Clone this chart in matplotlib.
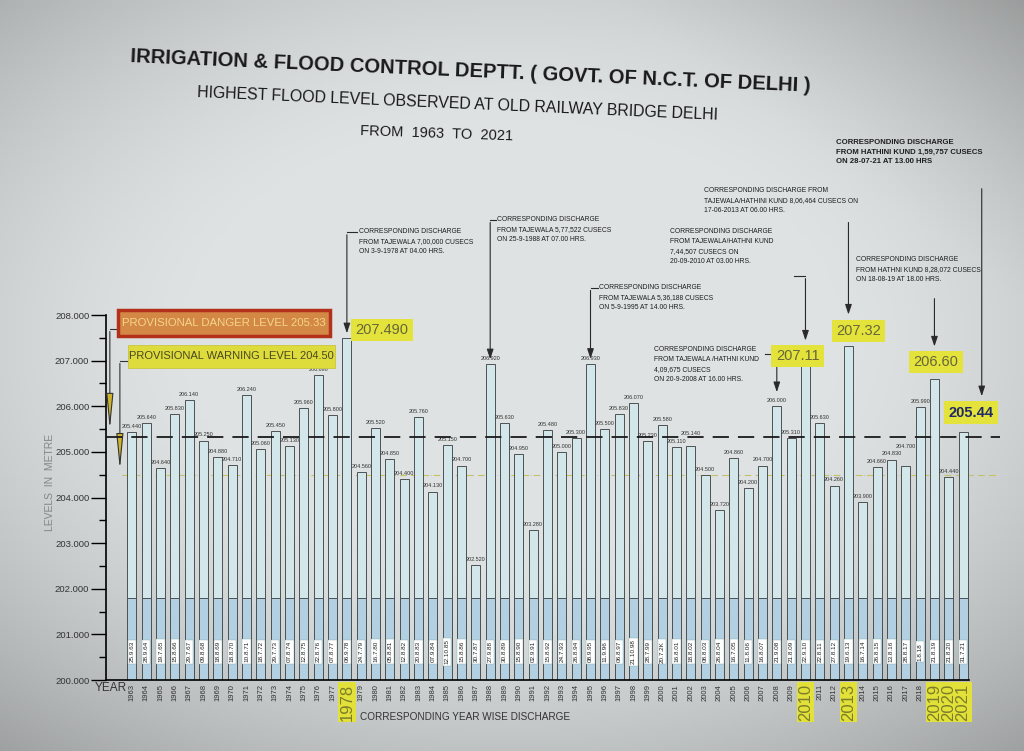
import numpy as np
import matplotlib.pyplot as plt
from matplotlib.patches import Rectangle
from matplotlib.transforms import blended_transform_factory

# highest flood level at Old Railway Bridge, Delhi (m)
years = np.arange(1963, 2022)
levels = [205.44, 205.64, 204.64, 205.83, 206.14, 205.25, 204.88, 204.71, 206.24, 205.06,
          205.45, 205.13, 205.96, 206.69, 205.80, 207.49, 204.56, 205.52, 204.85, 204.40,
          205.76, 204.13, 205.15, 204.70, 202.52, 206.92, 205.63, 204.95, 203.28, 205.48,
          205.00, 205.30, 206.93, 205.50, 205.83, 206.07, 205.23, 205.58, 205.11, 205.14,
          204.50, 203.72, 204.86, 204.20, 204.70, 206.00, 205.31, 207.11, 205.63, 204.26,
          207.32, 203.90, 204.66, 204.83, 204.70, 205.99, 206.60, 204.44, 205.44]
dates = ['25.9.63', '28.9.64', '19.7.65', '15.8.66', '29.7.67', '09.8.68', '18.8.69',
         '18.8.70', '10.8.71', '18.7.72', '29.7.73', '07.8.74', '12.8.75', '22.8.76', '07.8.77', '06.9.78', '24.7.79',
         '16.7.80', '05.8.81', '12.8.82', '20.8.83', '07.9.84', '12.10.85', '15.8.86', '30.7.87', '27.9.88', '30.8.89',
         '15.8.90', '02.9.91', '15.8.92', '24.7.93', '26.8.94', '08.9.95', '11.9.96', '06.8.97', '21.10.98', '28.7.99',
         '20.7.2K', '16.8.01', '18.8.02', '08.8.03', '26.8.04', '16.7.05', '11.8.06', '16.8.07', '21.9.08', '21.8.09',
         '22.9.10', '22.8.11', '27.8.12', '19.6.13', '16.7.14', '26.8.15', '13.8.16', '28.8.17', '1.8.18', '21.8.19',
         '21.8.20', '31.7.21']
danger = 205.33
warning = 204.50
big_years = [1978, 2010, 2013, 2019, 2021]
big_labels = ['207.490', '207.11', '207.32', '206.60', '205.44']
yellow_years = [1978, 2010, 2013, 2019, 2020, 2021]

notes = {
    1978: "CORRESPONDING DISCHARGE\nFROM TAJEWALA 7,00,000 CUSECS\nON 3-9-1978 AT 04.00 HRS.",
    1988: "CORRESPONDING DISCHARGE\nFROM TAJEWALA 5,77,522 CUSECS\nON 25-9-1988 AT 07.00 HRS.",
    1995: "CORRESPONDING DISCHARGE\nFROM TAJEWALA 5,36,188 CUSECS\nON 5-9-1995 AT 14.00 HRS.",
    2008: "CORRESPONDING DISCHARGE\nFROM TAJEWALA /HATHNI KUND\n4,09,675 CUSECS\nON 20-9-2008 AT 16.00 HRS.",
    2010: "CORRESPONDING DISCHARGE\nFROM TAJEWALA/HATHNI KUND\n7,44,507 CUSECS ON\n20-09-2010 AT 03.00 HRS.",
    2013: "CORRESPONDING DISCHARGE FROM\nTAJEWALA/HATHINI KUND 8,06,464 CUSECS ON\n17-06-2013 AT 06.00 HRS.",
    2019: "CORRESPONDING DISCHARGE\nFROM HATHNI KUND 8,28,072 CUSECS\nON 18-08-19 AT 18.00 HRS.",
    2021: "CORRESPONDING DISCHARGE\nFROM HATHINI KUND 1,59,757 CUSECS\nON 28-07-21 AT 13.00 HRS",
}

plt.rcParams['font.family'] = ['Liberation Sans', 'DejaVu Sans']

fig = plt.figure(figsize=(10.24, 7.51), dpi=100)

# photo-like grey background with dark corners
bg = fig.add_axes([0, 0, 1, 1], zorder=-5)
gx, gy = np.meshgrid(np.linspace(-1, 1, 256), np.linspace(-1, 1, 200))
r = np.sqrt((gx * 0.95) ** 2 + ((gy - 0.1) * 1.05) ** 2)
shade = 0.89 - 0.28 * np.clip(r - 0.55, 0, None) ** 1.6 - 0.10 * np.clip(gx + gy - 1.2, 0, None)
img = np.dstack([shade * 0.985, shade, shade])
bg.imshow(np.clip(img, 0, 1), aspect='auto', extent=[0, 1, 0, 1], origin='lower')
bg.axis('off')

ax = fig.add_axes([0.1035, 0.0945, 0.873, 0.486])
ax.patch.set_alpha(0)
ax.set_xlim(1961.19, 2023.57)
ax.set_ylim(200, 208)

bw = 0.62
ax.bar(years, [l - 200 for l in levels], bottom=200, width=bw, color='#d3e7eb',
       edgecolor='#4c5254', linewidth=0.7, zorder=2)
ax.bar(years, [1.8] * len(years), bottom=200, width=bw, color='#b2d0e2',
       edgecolor='#4c5254', linewidth=0.7, zorder=2)
for y, d in zip(years, dates):
    ax.text(y, 200.62, d, rotation=90, fontsize=4.6, ha='center', va='center', color='#222',
            bbox=dict(boxstyle='square,pad=0.25', fc='white', ec='#8aa', lw=0.3), zorder=3)

# small value labels on bar tops (lifted when the neighbour's label sits at the same height)
prev = None
for y, l in zip(years, levels):
    if y in big_years:
        prev = None
        continue
    pos = l + 0.07
    if prev is not None and abs(pos - prev) < 0.16:
        pos = max(pos, prev + 0.17)
    ax.text(y, pos, f'{l:.3f}', fontsize=4.0, ha='center', va='bottom', color='#333', zorder=4)
    prev = pos

# danger / warning lines
ax.plot([1961.19, 2023.57], [danger, danger], color='#1a1a1a', lw=1.3, dashes=(9, 5), zorder=5, clip_on=False)
ax.plot([1962.3, 2023.3], [warning, warning], color='#c8c35a', lw=0.8, dashes=(6, 4), zorder=1)
ax.plot([1962.3, 2023.3], [warning, warning], color='#9cb8cf', lw=0.6, dashes=(1, 9), zorder=1)

ax.add_patch(Rectangle((1962.02, 207.54), 14.8, 0.57, fc='#d48846', ec='#b3301a', lw=2.5,
                       zorder=6, clip_on=False))
ax.text(1969.42, 207.83, 'PROVISIONAL DANGER LEVEL 205.33', fontsize=8.2, ha='center', va='center',
        color='#f2d68a', zorder=7, clip_on=False)
ax.add_patch(Rectangle((1962.72, 206.84), 14.45, 0.51, fc='#dedb3c', ec='#c9c540', lw=0.6,
                       zorder=6, clip_on=False))
ax.text(1969.95, 207.1, 'PROVISIONAL WARNING LEVEL 204.50', fontsize=8.0, ha='center', va='center',
        color='#4a4820', zorder=7, clip_on=False)

ax.plot([1962.02, 1961.46], [207.7, 207.7], color='#333', lw=0.8, clip_on=False)
ax.annotate('', xy=(1961.46, danger + 0.1), xytext=(1961.46, 207.7), annotation_clip=False,
            arrowprops=dict(arrowstyle='-|>,head_length=2.2,head_width=0.22', color='#333', fc='#cdb42c', lw=0.8))
ax.plot([1962.72, 1962.16], [207.0, 207.0], color='#333', lw=0.8, clip_on=False)
ax.annotate('', xy=(1962.16, warning + 0.05), xytext=(1962.16, 207.0), annotation_clip=False,
            arrowprops=dict(arrowstyle='-|>,head_length=2.2,head_width=0.22', color='#333', fc='#cdb42c', lw=0.8))

# big yellow value boxes
big_pos = {1978: (1980.45, 207.67), 2010: (2009.45, 207.1), 2013: (2013.7, 207.65),
           2019: (2019.1, 206.97), 2021: (2021.55, 205.86)}
for y, lab in zip(big_years, big_labels):
    px, py = big_pos[y]
    col = '#1f2a66' if y == 2021 else '#66663a'
    ax.text(px, py, lab, fontsize=10.5, ha='center', va='center', color=col,
            fontweight='bold' if y == 2021 else 'normal',
            bbox=dict(boxstyle='square,pad=0.3', fc='#e4e33c', ec='none'), zorder=7, clip_on=False)

# discharge notes with leader lines
lvl = dict(zip(years, levels))
note_fmt = dict(fontsize=4.9, color='#1e1e1e', va='top', ha='left', linespacing=1.6, zorder=6)
line_kw = dict(color='#2a2a2a', lw=0.8, clip_on=False)
arrow_kw = dict(arrowstyle='-|>,head_length=0.6,head_width=0.2', color='#2a2a2a', lw=0.8)


def leader(x, ytop, yend, xh=None):
    if xh is not None:
        ax.plot([xh, x], [ytop, ytop], **line_kw)
    ax.annotate('', xy=(x, yend), xytext=(x, ytop), annotation_clip=False, arrowprops=arrow_kw)


ax.text(1978.85, 209.9, notes[1978], clip_on=False, **note_fmt)
leader(1978, 209.82, lvl[1978] + 0.05, 1978.7)
ax.text(1988.5, 210.17, notes[1988], clip_on=False, **note_fmt)
leader(1988, 210.09, lvl[1988] + 0.05, 1988.4)
ax.text(1995.6, 208.68, notes[1995], clip_on=False, **note_fmt)
leader(1995, 208.6, lvl[1995] + 0.05, 1995.5)
ax.text(1999.4, 207.32, notes[2008], clip_on=False, **note_fmt)
leader(2008, 207.15, lvl[2008] + 0.25, 2007.2)
ax.text(2000.55, 209.9, notes[2010], clip_on=False, **note_fmt)
leader(2010, 208.86, 207.38, 2009.2)
ax.text(2002.9, 210.8, notes[2013], clip_on=False, **note_fmt)
leader(2013, 210.09, 207.95)
ax.text(2013.55, 209.3, notes[2019], clip_on=False, **note_fmt)
leader(2019, 208.42, 207.25)
n21 = dict(note_fmt)
n21.update(fontsize=5.6, fontweight='bold', linespacing=1.5)
ax.text(2012.1, 211.85, notes[2021], clip_on=False, **n21)
leader(2022.3, 210.83, 206.16)

# axes styling
for s in ['top', 'right']:
    ax.spines[s].set_visible(False)
ax.spines['bottom'].set_bounds(1961.19, 2021.4)
ax.spines['left'].set_linewidth(1.2)
ax.spines['bottom'].set_linewidth(1.2)
ax.set_yticks(np.arange(200, 208.5, 1))
ax.set_yticklabels([f'{v:.3f}' for v in np.arange(200, 208.5, 1)], fontsize=6.8, color='#333')
ax.set_yticks(np.arange(200.5, 208, 1), minor=True)
ax.tick_params(axis='y', which='major', length=11, width=1.0, direction='out', pad=1)
ax.tick_params(axis='y', which='minor', length=5, width=1.0, direction='out')
ax.set_xticks(years)
ax.set_xticklabels(['' if y in yellow_years else str(y) for y in years],
                   rotation=90, fontsize=5.5, color='#333')
ax.tick_params(axis='x', length=0, pad=3)

trans = blended_transform_factory(ax.transData, ax.transAxes)
for y in yellow_years:
    ax.text(y, -0.01, str(y), transform=trans, rotation=90, fontsize=12, ha='center', va='top',
            color='#7c7c2a', bbox=dict(boxstyle='square,pad=0.08', fc='#e2e13a', ec='none'))

fig.text(0.108, 0.0839, 'YEAR', fontsize=8.5, ha='center', va='center', color='#333')
fig.text(0.352, 0.0453, 'CORRESPONDING YEAR WISE DISCHARGE', fontsize=7.2, ha='left', va='center', color='#333')
fig.text(0.049, 0.358, 'LEVELS  IN  METRE', fontsize=7.5, rotation=90, ha='center', va='center', color='#80868a')

fig.text(0.459, 0.905, 'IRRIGATION & FLOOD CONTROL DEPTT. ( GOVT. OF N.C.T. OF DELHI )', fontsize=14.5,
         fontweight='bold', ha='center', va='center', color='#1a1a1a', rotation=-2.5)
fig.text(0.447, 0.862, 'HIGHEST FLOOD LEVEL OBSERVED AT OLD RAILWAY BRIDGE DELHI', fontsize=11.4,
         ha='center', va='center', color='#1a1a1a', rotation=-2.5)
fig.text(0.426, 0.822, 'FROM  1963  TO  2021', fontsize=10.5, ha='center', va='center', color='#1a1a1a',
         rotation=-2.0)

fig.savefig('out.png', dpi=100)
